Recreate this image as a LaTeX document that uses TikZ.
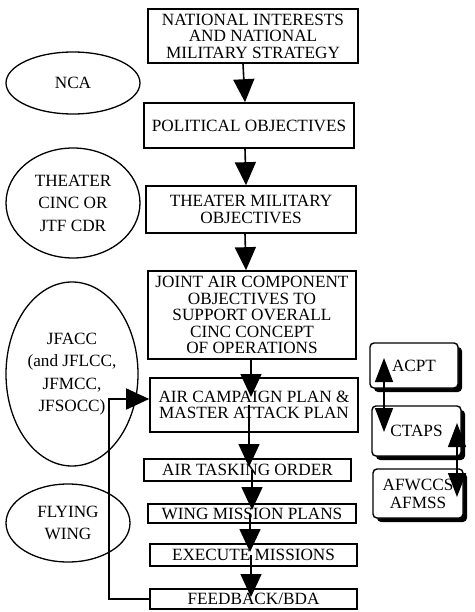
\documentclass[tikz,border=0pt]{standalone}
\usepackage{fontspec}
\setmainfont{Liberation Serif}
\usetikzlibrary{arrows.meta,positioning,calc,shapes.geometric,shadows}
\tikzset{stage/.style={rectangle, draw=black, line width=1.6pt, fill=white, align=center, inner sep=0pt, font=\fontsize{17.2}{16.5}\selectfont},
  actor/.style={ellipse, draw=black, line width=1.3pt, align=center, inner sep=0pt, font=\fontsize{17.2}{22.5}\selectfont},
  tool/.style={rectangle, rounded corners=4pt, draw=black, line width=1.4pt, fill=white, align=center, inner sep=0pt, font=\fontsize{17.2}{18}\selectfont, drop shadow={shadow xshift=4pt, shadow yshift=-4pt, fill=black, opacity=1}},
  flow/.style={line width=1.6pt, -{Triangle[length=23pt,width=21pt]}},
  link/.style={line width=1.4pt, {Triangle[length=24pt,width=18pt]}-{Triangle[length=24pt,width=18pt]}}}

\begin{document}
\begin{tikzpicture}[x=1pt,y=-1pt]
	\useasboundingbox (0,0) rectangle (474,612);
	% planning chain
	\node[stage, minimum width=210pt, minimum height=54pt] (ni) at (253,36) {NATIONAL INTERESTS\\AND NATIONAL\\MILITARY STRATEGY};
	\node[stage, minimum width=210pt, minimum height=45pt] (po) at (249,125.5) {POLITICAL OBJECTIVES};
	\node[stage, minimum width=210pt, minimum height=47pt] (tmo) at (251,209.5) {THEATER MILITARY\\OBJECTIVES};
	\node[stage, minimum width=208pt, minimum height=88pt] (jac) at (252,315) {JOINT AIR COMPONENT\\OBJECTIVES TO\\SUPPORT OVERALL\\CINC CONCEPT\\OF OPERATIONS};
	\node[stage, minimum width=208pt, minimum height=54pt] (acp) at (254,405) {AIR CAMPAIGN PLAN \&\\MASTER ATTACK PLAN};
	\node[stage, minimum width=207pt, minimum height=22pt] (ato) at (247.5,470) {AIR TASKING ORDER};
	\node[stage, minimum width=208pt, minimum height=19pt] (wmp) at (252,513.5) {WING MISSION PLANS};
	\node[stage, minimum width=207pt, minimum height=22pt] (exm) at (253.5,555) {EXECUTE MISSIONS};
	\node[stage, minimum width=207pt, minimum height=20pt] (fb) at (253.5,599) {FEEDBACK/BDA};
	% who does it
	\node[actor, minimum width=134pt, minimum height=62pt] (nca) at (73,83) {NCA};
	\node[actor, minimum width=134pt, minimum height=110pt] (cinc) at (73,203) {THEATER\\CINC OR\\JTF CDR};
	\node[actor, minimum width=132pt, minimum height=184pt] (jfacc) at (72,374) {JFACC\\(and JFLCC,\\JFMCC,\\JFSOCC)};
	\node[actor, minimum width=124pt, minimum height=78pt] (wing) at (68,523) {FLYING\\WING};
	% systems
	\node[tool, minimum width=88pt, minimum height=45pt] (acpt) at (414,365.5) {ACPT};
	\node[tool, minimum width=89pt, minimum height=50pt] (ctaps) at (416.5,431) {CTAPS};
	\node[tool, minimum width=90pt, minimum height=49pt] (afw) at (418,493.5) {AFWCCS\\AFMSS};
	% arrows
	\draw[flow] ([xshift=-10pt]ni.south) -- ([xshift=-4pt]po.north);
	\draw[flow] ([xshift=-4pt]po.south) -- ([xshift=-5pt]tmo.north);
	\draw[flow] ([xshift=-6pt]tmo.south) -- ([xshift=-6pt]jac.north);
	\draw[flow] ([xshift=-1pt]jac.south) -- ([xshift=-3pt,yshift=8pt]acp.center);
	\draw[flow] ([xshift=-5pt]acp.center) -- ([xshift=1.5pt,yshift=3pt]ato.center);
	\draw[flow] ([xshift=4.5pt]ato.center) -- ([yshift=3.5pt]wmp.center);
	\draw[flow] ([xshift=-2pt]wmp.center) -- ([xshift=-3.5pt,yshift=3pt]exm.center);
	\draw[flow] ([xshift=-2.5pt]exm.center) -- ([xshift=-2.5pt,yshift=2pt]fb.center);
	\draw[flow] (fb.west) -- ++(-40,0) |- ([yshift=6pt]acp.west);
	\draw[link] ([xshift=-30pt,yshift=7.5pt]acpt.center) -- ([xshift=-32.5pt,yshift=-1pt]ctaps.center);
	\draw[link] ([xshift=40.5pt,yshift=8pt]ctaps.center) -- ([xshift=39pt,yshift=-3.5pt]afw.center);
\end{tikzpicture}
\end{document}
